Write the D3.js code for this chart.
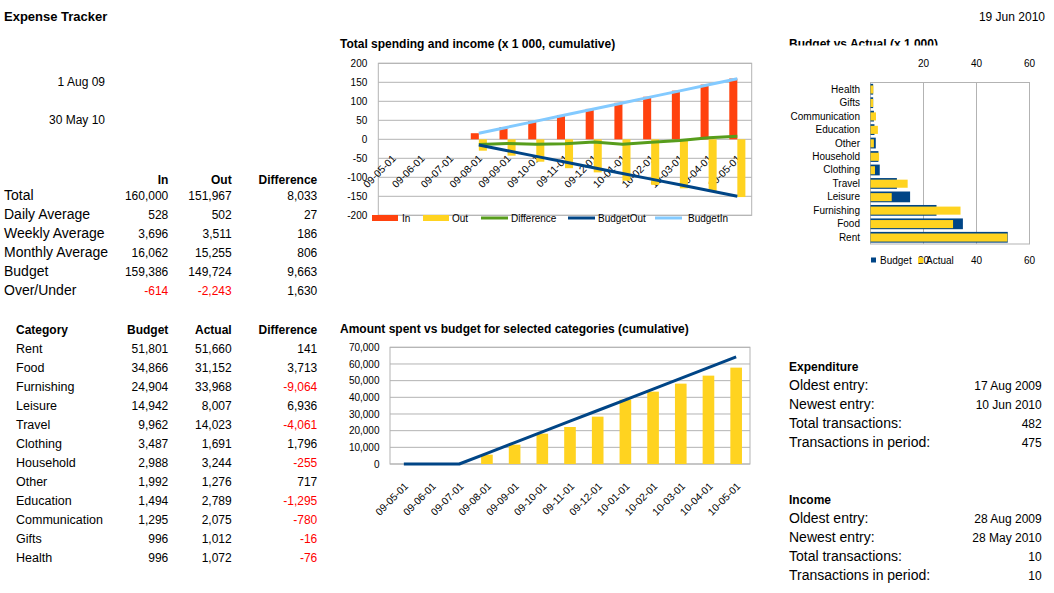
<!DOCTYPE html>
<html>
<head>
<meta charset="utf-8">
<script src="https://cdn.jsdelivr.net/npm/d3@7"></script>
<style>
  body { margin: 0; background: #fff; }
  svg { display: block; font-family: "Liberation Sans", Arial, sans-serif; }
</style>
</head>
<body>
<svg id="sheet" width="1054" height="593"></svg>
<script>
// ---- data ----
var months = ["09-05-01", "09-06-01", "09-07-01", "09-08-01", "09-09-01", "09-10-01", "09-11-01",
              "09-12-01", "10-01-01", "10-02-01", "10-03-01", "10-04-01", "10-05-01"];

// cumulative, x 1 000
var cumIn      = [0, 0, 0, 16, 32, 48, 64, 80, 96, 112, 128, 144, 160];
var cumOut     = [0, 0, 0, -30, -43, -59, -76, -87, -109, -120, -129, -138, -152];
var cumDiff    = [null, null, null, -14, -11, -13, -12, -7, -13, -8, -3, 4, 8];
var budgetOut  = [null, null, null, -15, -29.9, -44.9, -59.9, -74.9, -89.8, -104.8, -119.8, -134.8, -149.7];
var budgetIn   = [null, null, null, 15.9, 31.9, 47.8, 63.8, 79.7, 95.6, 111.6, 127.5, 143.4, 159.4];

// selected categories, cumulative
var spentSel   = [0, 0, 0, 5600, 11600, 18200, 22200, 28400, 38600, 43400, 48200, 53000, 57800];
var budgetSel  = [0, 0, 0, 6420, 12840, 19260, 25680, 32100, 38520, 44940, 51360, 57780, 64200];

var summaryRows = ["Total", "Daily Average", "Weekly Average", "Monthly Average", "Budget", "Over/Under"];
var summaryIn   = [160000, 528, 3696, 16062, 159386, -614];
var summaryOut  = [151967, 502, 3511, 15255, 149724, -2243];
var summaryDiff = [8033, 27, 186, 806, 9663, 1630];

var categories = ["Rent", "Food", "Furnishing", "Leisure", "Travel", "Clothing", "Household",
                  "Other", "Education", "Communication", "Gifts", "Health"];
var catBudget  = [51801, 34866, 24904, 14942, 9962, 3487, 2988, 1992, 1494, 1295, 996, 996];
var catActual  = [51660, 31152, 33968, 8007, 14023, 1691, 3244, 1276, 2789, 2075, 1012, 1072];
var catDiff    = [141, 3713, -9064, 6936, -4061, 1796, -255, 717, -1295, -780, -16, -76];

var infoLabels  = ["Oldest entry:", "Newest entry:", "Total transactions:", "Transactions in period:"];
var expenditure = ["17 Aug 2009", "10 Jun 2010", "482", "475"];
var income      = ["28 Aug 2009", "28 May 2010", "10", "10"];

var topTicks = [-200, -150, -100, -50, 0, 50, 100, 150, 200];
var selTicks = [0, 10000, 20000, 30000, 40000, 50000, 60000, 70000];
var bvaTicks = [20, 40, 60];

// ---- colours ----
var cRed = "#ff420e", cYellow = "#ffd320", cGreen = "#579d1c",
    cNavy = "#004586", cSky = "#83caff", cGrid = "#b3b3b3";

var fmt = d3.formatLocale({decimal: ".", thousands: ",", grouping: [3], currency: ["", ""], minus: "-"}).format(",");

var svg = d3.select("#sheet");
svg.append("rect").attr("width", 1054).attr("height", 593).attr("fill", "#fff");

function text(g, x, y, s, size, opts) {
  opts = opts || {};
  return g.append("text")
    .attr("x", x).attr("y", y)
    .attr("font-size", size)
    .attr("font-weight", opts.bold ? "bold" : null)
    .attr("text-anchor", opts.anchor || "start")
    .attr("fill", opts.color || "#000")
    .text(s);
}
function numColor(v) { return v < 0 ? "#ff0000" : "#000"; }

// ---- sheet texts ----
var sheet = svg.append("g");
text(sheet, 4, 21, "Expense Tracker", 13, {bold: true});
text(sheet, 1045, 21, "19 Jun 2010", 12, {anchor: "end"});
text(sheet, 105, 86, "1 Aug 09", 12, {anchor: "end"});
text(sheet, 105, 124, "30 May 10", 12, {anchor: "end"});

var colX = [168.3, 231.7, 317.3];
["In", "Out", "Difference"].forEach(function(h, i) {
  text(sheet, colX[i], 184, h, 12, {bold: true, anchor: "end"});
});
svg.append("clipPath").attr("id", "labclip")
  .append("rect").attr("x", 0).attr("y", 180).attr("width", 108.5).attr("height", 130);
var sumLab = sheet.append("g").attr("clip-path", "url(#labclip)");
summaryRows.forEach(function(r, i) {
  var y = 200 + i * 19;
  text(sumLab, 4, y, r, 14);
  [summaryIn[i], summaryOut[i], summaryDiff[i]].forEach(function(v, j) {
    text(sheet, colX[j], y - 0.5, fmt(v), 12, {anchor: "end", color: numColor(v)});
  });
});

text(sheet, 16, 333.5, "Category", 12, {bold: true});
["Budget", "Actual", "Difference"].forEach(function(h, i) {
  text(sheet, colX[i], 333.5, h, 12, {bold: true, anchor: "end"});
});
categories.forEach(function(c, i) {
  var y = 352.5 + i * 19;
  text(sheet, 16, y, c, 12.5);
  [catBudget[i], catActual[i], catDiff[i]].forEach(function(v, j) {
    text(sheet, colX[j], y, fmt(v), 12, {anchor: "end", color: numColor(v)});
  });
});

text(sheet, 789, 371, "Expenditure", 12, {bold: true});
infoLabels.forEach(function(l, i) {
  text(sheet, 789, 390 + i * 19, l, 14);
  text(sheet, 1041.7, 389.5 + i * 19, expenditure[i], 12, {anchor: "end"});
});
text(sheet, 789, 503.5, "Income", 12, {bold: true});
infoLabels.forEach(function(l, i) {
  text(sheet, 789, 523 + i * 19, l, 14);
  text(sheet, 1041.7, 522.5 + i * 19, income[i], 12, {anchor: "end"});
});

// ---- chart 1: total spending and income ----
var c1 = svg.append("g");
var x1 = d3.scaleBand().domain(months).range([378.3, 751.7]);
var y1 = d3.scaleLinear().domain([-200, 200]).range([215.3, 63.3]);
text(c1, 340, 48, "Total spending and income (x 1 000, cumulative)", 12, {bold: true});

c1.append("g").selectAll("line").data(topTicks).join("line")
  .attr("x1", x1.range()[0]).attr("x2", x1.range()[1])
  .attr("y1", d => y1(d)).attr("y2", d => y1(d))
  .attr("stroke", cGrid);
c1.append("rect")
  .attr("x", x1.range()[0]).attr("y", y1(200))
  .attr("width", x1.range()[1] - x1.range()[0]).attr("height", y1(-200) - y1(200))
  .attr("fill", "none").attr("stroke", cGrid);

c1.append("g")
  .attr("transform", "translate(" + x1.range()[0] + ",0)")
  .call(d3.axisLeft(y1).tickValues(topTicks).tickSize(0).tickPadding(11).tickFormat(fmt))
  .call(g => g.select(".domain").remove())
  .selectAll("text")
    .attr("font-size", 10)
    .attr("font-family", "Liberation Sans, Arial, sans-serif")
    .attr("fill", "#000");

var cx1 = d => x1(d) + x1.bandwidth() / 2;
c1.append("g").selectAll("text").data(months).join("text")
  .attr("transform", d => "translate(" + (cx1(d) + 4) + "," + (y1(0) + 20) + ") rotate(-45)")
  .attr("text-anchor", "end")
  .attr("font-size", 10.3)
  .text(d => d);

var bw1 = x1.bandwidth() * 0.28;
c1.append("g").selectAll("rect").data(months).join("rect")
  .attr("x", d => cx1(d) - bw1).attr("width", bw1)
  .attr("y", (d, i) => y1(cumIn[i])).attr("height", (d, i) => y1(0) - y1(cumIn[i]))
  .attr("fill", cRed);
c1.append("g").selectAll("rect").data(months).join("rect")
  .attr("x", d => cx1(d)).attr("width", bw1)
  .attr("y", y1(0)).attr("height", (d, i) => y1(cumOut[i]) - y1(0))
  .attr("fill", cYellow);

var line1 = d3.line()
  .defined(d => d.v != null)
  .x(d => cx1(d.m))
  .y(d => y1(d.v));
[[cumDiff, cGreen], [budgetOut, cNavy], [budgetIn, cSky]].forEach(function(s) {
  c1.append("path")
    .datum(months.map((m, i) => ({m: m, v: s[0][i]})))
    .attr("fill", "none")
    .attr("stroke", s[1])
    .attr("stroke-width", 3)
    .attr("stroke-linejoin", "round")
    .attr("d", line1);
});

// legend
var leg1 = c1.append("g");
[["In", cRed, "rect", 372, 402], ["Out", cYellow, "rect", 423, 452],
 ["Difference", cGreen, "line", 481, 511], ["BudgetOut", cNavy, "line", 568, 598],
 ["BudgetIn", cSky, "line", 655, 688]].forEach(function(l) {
  if (l[2] === "rect") {
    leg1.append("rect").attr("x", l[3]).attr("y", 215).attr("width", 26).attr("height", 6).attr("fill", l[1]);
  } else {
    leg1.append("line").attr("x1", l[3]).attr("x2", l[3] + 27).attr("y1", 218).attr("y2", 218)
      .attr("stroke", l[1]).attr("stroke-width", 3);
  }
  text(leg1, l[4], 221.5, l[0], 10);
});

// ---- chart 2: budget vs actual ----
var c2 = svg.append("g");
svg.append("clipPath").attr("id", "titleclip")
  .append("rect").attr("x", 780).attr("y", 30).attr("width", 270).attr("height", 15.5);
text(c2.append("g").attr("clip-path", "url(#titleclip)"), 789, 47.5, "Budget vs Actual (x 1 000)", 12, {bold: true});

var x2 = d3.scaleLinear().domain([0, 60]).range([870.5, 1029.5]);
var y2 = d3.scaleBand().domain(categories.slice().reverse()).range([82.5, 244]);

c2.append("g").selectAll("line").data(bvaTicks).join("line")
  .attr("x1", d => x2(d)).attr("x2", d => x2(d))
  .attr("y1", y2.range()[0]).attr("y2", y2.range()[1])
  .attr("stroke", cGrid);
c2.append("rect")
  .attr("x", x2(0)).attr("y", y2.range()[0])
  .attr("width", x2(60) - x2(0)).attr("height", y2.range()[1] - y2.range()[0])
  .attr("fill", "none").attr("stroke", cGrid);

c2.append("g").selectAll("rect").data(categories).join("rect")
  .attr("x", x2(0)).attr("width", (d, i) => x2(catBudget[i] / 1000) - x2(0))
  .attr("y", d => y2(d) + y2.bandwidth() * 0.1).attr("height", y2.bandwidth() * 0.8)
  .attr("fill", cNavy);
c2.append("g").selectAll("rect").data(categories).join("rect")
  .attr("x", x2(0)).attr("width", (d, i) => x2(catActual[i] / 1000) - x2(0))
  .attr("y", d => y2(d) + y2.bandwidth() * 0.22).attr("height", y2.bandwidth() * 0.6)
  .attr("fill", cYellow);

c2.append("g").selectAll("text").data(categories).join("text")
  .attr("x", 860).attr("y", d => y2(d) + y2.bandwidth() / 2 + 3.5)
  .attr("text-anchor", "end").attr("font-size", 10)
  .text(d => d);

c2.append("g").selectAll("text").data(bvaTicks).join("text")
  .attr("x", d => x2(d)).attr("y", 67)
  .attr("text-anchor", "middle").attr("font-size", 10)
  .text(d => d);
c2.append("g").selectAll("text").data(bvaTicks).join("text")
  .attr("x", d => x2(d)).attr("y", 264)
  .attr("text-anchor", "middle").attr("font-size", 10)
  .text(d => d);

var leg2 = c2.append("g");
leg2.append("rect").attr("x", 871).attr("y", 257.5).attr("width", 5).attr("height", 5).attr("fill", cNavy);
text(leg2, 880, 264, "Budget", 10);
leg2.append("rect").attr("x", 918).attr("y", 257.5).attr("width", 5.5).attr("height", 5.5).attr("fill", cYellow);
text(leg2, 926, 264, "Actual", 10);

// ---- chart 3: selected categories ----
var c3 = svg.append("g");
text(c3, 340, 333, "Amount spent vs budget for selected categories (cumulative)", 12, {bold: true});
var x3 = d3.scaleBand().domain(months).range([390, 750]);
var y3 = d3.scaleLinear().domain([0, 70000]).range([464, 347.3]);

c3.append("g").selectAll("line").data(selTicks).join("line")
  .attr("x1", x3.range()[0]).attr("x2", x3.range()[1])
  .attr("y1", d => y3(d)).attr("y2", d => y3(d))
  .attr("stroke", cGrid);
c3.append("rect")
  .attr("x", x3.range()[0]).attr("y", y3(70000))
  .attr("width", x3.range()[1] - x3.range()[0]).attr("height", y3(0) - y3(70000))
  .attr("fill", "none").attr("stroke", cGrid);

c3.append("g")
  .attr("transform", "translate(" + x3.range()[0] + ",0)")
  .call(d3.axisLeft(y3).tickValues(selTicks).tickSize(0).tickPadding(10.5).tickFormat(fmt))
  .call(g => g.select(".domain").remove())
  .selectAll("text")
    .attr("font-size", 10)
    .attr("font-family", "Liberation Sans, Arial, sans-serif")
    .attr("fill", "#000");

var cx3 = d => x3(d) + x3.bandwidth() / 2;
var bw3 = x3.bandwidth() * 0.42;
c3.append("g").selectAll("rect").data(months).join("rect")
  .attr("x", d => cx3(d) - bw3 / 2).attr("width", bw3)
  .attr("y", (d, i) => y3(spentSel[i])).attr("height", (d, i) => y3(0) - y3(spentSel[i]))
  .attr("fill", cYellow);

c3.append("path")
  .datum(budgetSel)
  .attr("fill", "none")
  .attr("stroke", cNavy)
  .attr("stroke-width", 3)
  .attr("stroke-linejoin", "round")
  .attr("d", d3.line().x((d, i) => cx3(months[i])).y(d => y3(d)));

c3.append("g").selectAll("text").data(months).join("text")
  .attr("transform", d => "translate(" + (cx3(d) + 5) + "," + (y3(0) + 23) + ") rotate(-45)")
  .attr("text-anchor", "end")
  .attr("font-size", 10.3)
  .text(d => d);
</script>
</body>
</html>
